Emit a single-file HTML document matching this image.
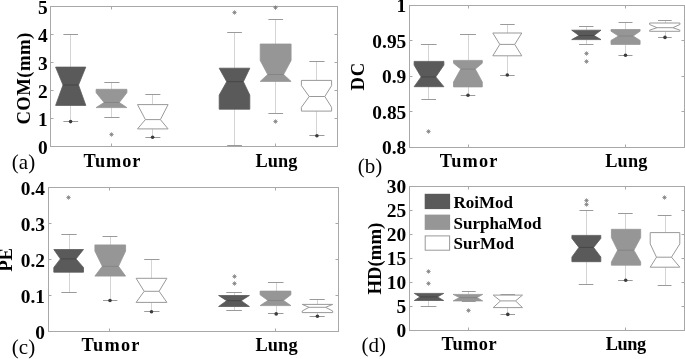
<!DOCTYPE html>
<html><head><meta charset="utf-8"><title>Boxplots</title>
<style>
html,body{margin:0;padding:0;background:#fff;}
body{width:685px;height:359px;overflow:hidden;}
svg{display:block;}
text{font-family:"Liberation Serif","Times New Roman",serif;fill:#000;}
.tl{font-size:18.5px;font-weight:bold;}
.xl{font-size:18.3px;font-weight:bold;}
.yl{font-size:18.7px;font-weight:bold;}
.pl{font-size:21px;}
.lg{font-size:17px;font-weight:bold;}
</style></head>
<body>
<svg width="685" height="359" viewBox="0 0 685 359">
<rect width="685" height="359" fill="#fff"/>
<rect x="50.5" y="6.5" width="287.0" height="140.0" fill="none" stroke="#a8a8a8" stroke-width="1"/>
<line x1="50.5" y1="118.5" x2="53.5" y2="118.5" stroke="#a8a8a8" stroke-width="1"/>
<line x1="334.5" y1="118.5" x2="337.5" y2="118.5" stroke="#a8a8a8" stroke-width="1"/>
<line x1="50.5" y1="90.5" x2="53.5" y2="90.5" stroke="#a8a8a8" stroke-width="1"/>
<line x1="334.5" y1="90.5" x2="337.5" y2="90.5" stroke="#a8a8a8" stroke-width="1"/>
<line x1="50.5" y1="62.5" x2="53.5" y2="62.5" stroke="#a8a8a8" stroke-width="1"/>
<line x1="334.5" y1="62.5" x2="337.5" y2="62.5" stroke="#a8a8a8" stroke-width="1"/>
<line x1="50.5" y1="34.5" x2="53.5" y2="34.5" stroke="#a8a8a8" stroke-width="1"/>
<line x1="334.5" y1="34.5" x2="337.5" y2="34.5" stroke="#a8a8a8" stroke-width="1"/>
<line x1="111.5" y1="146.5" x2="111.5" y2="143.5" stroke="#a8a8a8" stroke-width="1"/>
<line x1="111.5" y1="6.5" x2="111.5" y2="9.5" stroke="#a8a8a8" stroke-width="1"/>
<line x1="275.5" y1="146.5" x2="275.5" y2="143.5" stroke="#a8a8a8" stroke-width="1"/>
<line x1="275.5" y1="6.5" x2="275.5" y2="9.5" stroke="#a8a8a8" stroke-width="1"/>
<text transform="translate(47.800000000000004,154.1) scale(1.05,1)" class="tl" text-anchor="end">0</text>
<text transform="translate(47.800000000000004,126.2) scale(1.05,1)" class="tl" text-anchor="end">1</text>
<text transform="translate(47.800000000000004,98.2) scale(1.05,1)" class="tl" text-anchor="end">2</text>
<text transform="translate(47.800000000000004,70.3) scale(1.05,1)" class="tl" text-anchor="end">3</text>
<text transform="translate(47.800000000000004,42.3) scale(1.05,1)" class="tl" text-anchor="end">4</text>
<text transform="translate(47.800000000000004,14.4) scale(1.05,1)" class="tl" text-anchor="end">5</text>
<text transform="translate(29.5,78.7) rotate(-90)" x="0.2" class="yl" text-anchor="middle" style="letter-spacing:0.4px">COM(mm)</text>
<text x="112.475" y="166.6" class="xl" text-anchor="middle" style="letter-spacing:0.95px">Tumor</text>
<text x="276.55" y="166.5" class="xl" text-anchor="middle" style="letter-spacing:0.1px">Lung</text>
<text x="23.5" y="168.5" class="pl" text-anchor="middle">(a)</text>
<line x1="70.5" y1="67" x2="70.5" y2="34.5" stroke="#d4d4d4" stroke-width="1"/>
<line x1="63.4" y1="34.5" x2="78.1" y2="34.5" stroke="#9a9a9a" stroke-width="1"/>
<line x1="70.5" y1="105.3" x2="70.5" y2="121.5" stroke="#d4d4d4" stroke-width="1"/>
<line x1="63.4" y1="121.5" x2="78.1" y2="121.5" stroke="#9a9a9a" stroke-width="1"/>
<polygon points="55.6,67.1 85.8,67.1 85.8,67.1 78.5,85.0 85.8,105.4 85.8,105.4 55.6,105.4 55.6,105.4 63.0,85.0 55.6,67.1" fill="#5a5a5a" stroke="#5a5a5a" stroke-width="0.8"/>
<line x1="63.0" y1="85.0" x2="78.5" y2="85.0" stroke="#474747" stroke-width="1"/>
<circle cx="70.6" cy="121.6" r="1.8" fill="#3c3c3c"/>
<line x1="111.5" y1="89.4" x2="111.5" y2="82.5" stroke="#d4d4d4" stroke-width="1"/>
<line x1="104.3" y1="82.5" x2="119.5" y2="82.5" stroke="#9a9a9a" stroke-width="1"/>
<line x1="111.5" y1="107.4" x2="111.5" y2="117.5" stroke="#d4d4d4" stroke-width="1"/>
<line x1="104.3" y1="117.5" x2="119.5" y2="117.5" stroke="#9a9a9a" stroke-width="1"/>
<polygon points="96.1,89.3 126.9,89.3 126.9,92.7 119.3,102.5 126.9,107.6 126.9,107.6 96.1,107.6 96.1,107.6 104.1,102.5 96.1,92.7" fill="#969696" stroke="#969696" stroke-width="0.8"/>
<line x1="104.1" y1="102.5" x2="119.3" y2="102.5" stroke="#858585" stroke-width="1"/>
<path d="M109.3,134.5H113.7M111.5,132.3V136.7M109.85,132.85L113.15,136.15M109.85,136.15L113.15,132.85" stroke="#7c7c7c" stroke-width="0.75" fill="none"/>
<line x1="152.5" y1="104.6" x2="152.5" y2="94.5" stroke="#d4d4d4" stroke-width="1"/>
<line x1="145.4" y1="94.5" x2="160.4" y2="94.5" stroke="#9a9a9a" stroke-width="1"/>
<line x1="152.5" y1="128.9" x2="152.5" y2="137.5" stroke="#d4d4d4" stroke-width="1"/>
<line x1="145.4" y1="137.5" x2="160.4" y2="137.5" stroke="#9a9a9a" stroke-width="1"/>
<polygon points="137.5,104.6 168.1,104.6 168.1,104.6 160.4,119.6 168.1,128.9 168.1,128.9 137.5,128.9 137.5,128.9 145.4,119.6 137.5,104.6" fill="#fff" stroke="#999999" stroke-width="1"/>
<line x1="145.4" y1="119.6" x2="160.4" y2="119.6" stroke="#999999" stroke-width="1"/>
<circle cx="152.6" cy="137.2" r="1.8" fill="#3c3c3c"/>
<line x1="234.5" y1="68.2" x2="234.5" y2="32.5" stroke="#d4d4d4" stroke-width="1"/>
<line x1="227.2" y1="32.5" x2="241.9" y2="32.5" stroke="#9a9a9a" stroke-width="1"/>
<line x1="234.5" y1="109.2" x2="234.5" y2="145.5" stroke="#d4d4d4" stroke-width="1"/>
<line x1="227.2" y1="145.5" x2="241.9" y2="145.5" stroke="#9a9a9a" stroke-width="1"/>
<polygon points="219.2,68.2 249.8,68.2 249.8,68.2 243.4,81.7 249.8,95.1 249.8,109.2 219.2,109.2 219.2,95.1 226.7,81.7 219.2,68.2" fill="#5a5a5a" stroke="#5a5a5a" stroke-width="0.8"/>
<line x1="226.7" y1="81.7" x2="243.4" y2="81.7" stroke="#474747" stroke-width="1"/>
<path d="M232.3,12.5H236.7M234.5,10.3V14.7M232.85,10.85L236.15,14.15M232.85,14.15L236.15,10.85" stroke="#7c7c7c" stroke-width="0.75" fill="none"/>
<line x1="275.5" y1="44" x2="275.5" y2="19.5" stroke="#d4d4d4" stroke-width="1"/>
<line x1="268.4" y1="19.5" x2="283.1" y2="19.5" stroke="#9a9a9a" stroke-width="1"/>
<line x1="275.5" y1="81.4" x2="275.5" y2="113.5" stroke="#d4d4d4" stroke-width="1"/>
<line x1="268.4" y1="113.5" x2="283.1" y2="113.5" stroke="#9a9a9a" stroke-width="1"/>
<polygon points="260.2,44.0 291.1,44.0 291.1,60.4 283.6,74.5 291.1,81.4 291.1,81.4 260.2,81.4 260.2,81.4 267.7,74.5 260.2,60.4" fill="#969696" stroke="#969696" stroke-width="0.8"/>
<line x1="267.7" y1="74.5" x2="283.6" y2="74.5" stroke="#858585" stroke-width="1"/>
<path d="M273.3,7.5H277.7M275.5,5.3V9.7M273.85,5.85L277.15,9.15M273.85,9.15L277.15,5.85" stroke="#7c7c7c" stroke-width="0.75" fill="none"/>
<path d="M273.3,121.5H277.7M275.5,119.3V123.7M273.85,119.85L277.15,123.15M273.85,123.15L277.15,119.85" stroke="#7c7c7c" stroke-width="0.75" fill="none"/>
<line x1="316.5" y1="80.5" x2="316.5" y2="61.5" stroke="#d4d4d4" stroke-width="1"/>
<line x1="309.3" y1="61.5" x2="324.5" y2="61.5" stroke="#9a9a9a" stroke-width="1"/>
<line x1="316.5" y1="111.1" x2="316.5" y2="135.5" stroke="#d4d4d4" stroke-width="1"/>
<line x1="309.3" y1="135.5" x2="324.5" y2="135.5" stroke="#9a9a9a" stroke-width="1"/>
<polygon points="301.4,80.4 331.6,80.4 331.6,85.6 324.8,96.5 331.6,107.3 331.6,111.1 301.4,111.1 301.4,107.3 309.2,96.5 301.4,85.6" fill="#fff" stroke="#999999" stroke-width="1"/>
<line x1="309.2" y1="96.5" x2="324.8" y2="96.5" stroke="#999999" stroke-width="1"/>
<circle cx="316.9" cy="135.7" r="1.8" fill="#3c3c3c"/>
<rect x="409.5" y="5.5" width="275.0" height="142.0" fill="none" stroke="#a8a8a8" stroke-width="1"/>
<line x1="409.5" y1="111.5" x2="412.5" y2="111.5" stroke="#a8a8a8" stroke-width="1"/>
<line x1="681.5" y1="111.5" x2="684.5" y2="111.5" stroke="#a8a8a8" stroke-width="1"/>
<line x1="409.5" y1="76.5" x2="412.5" y2="76.5" stroke="#a8a8a8" stroke-width="1"/>
<line x1="681.5" y1="76.5" x2="684.5" y2="76.5" stroke="#a8a8a8" stroke-width="1"/>
<line x1="409.5" y1="40.5" x2="412.5" y2="40.5" stroke="#a8a8a8" stroke-width="1"/>
<line x1="681.5" y1="40.5" x2="684.5" y2="40.5" stroke="#a8a8a8" stroke-width="1"/>
<line x1="468.5" y1="147.5" x2="468.5" y2="144.5" stroke="#a8a8a8" stroke-width="1"/>
<line x1="468.5" y1="5.5" x2="468.5" y2="8.5" stroke="#a8a8a8" stroke-width="1"/>
<line x1="625.5" y1="147.5" x2="625.5" y2="144.5" stroke="#a8a8a8" stroke-width="1"/>
<line x1="625.5" y1="5.5" x2="625.5" y2="8.5" stroke="#a8a8a8" stroke-width="1"/>
<text transform="translate(406.3,154.3) scale(1.05,1)" class="tl" text-anchor="end">0.8</text>
<text transform="translate(406.3,118.8) scale(1.05,1)" class="tl" text-anchor="end">0.85</text>
<text transform="translate(406.3,83.3) scale(1.05,1)" class="tl" text-anchor="end">0.9</text>
<text transform="translate(406.3,47.8) scale(1.05,1)" class="tl" text-anchor="end">0.95</text>
<text transform="translate(406.3,12.3) scale(1.05,1)" class="tl" text-anchor="end">1</text>
<text transform="translate(364.2,76.6) rotate(-90)" x="0.3" class="yl" text-anchor="middle" style="letter-spacing:0.6px">DC</text>
<text x="469.05" y="167.1" class="xl" text-anchor="middle" style="letter-spacing:1.1px">Tumor</text>
<text x="626.4" y="167.1" class="xl" text-anchor="middle" style="letter-spacing:0.2px">Lung</text>
<text x="370.0" y="173" class="pl" text-anchor="middle">(b)</text>
<line x1="428.5" y1="61.4" x2="428.5" y2="44.5" stroke="#d4d4d4" stroke-width="1"/>
<line x1="420.9" y1="44.5" x2="436.6" y2="44.5" stroke="#9a9a9a" stroke-width="1"/>
<line x1="428.5" y1="86.7" x2="428.5" y2="99.5" stroke="#d4d4d4" stroke-width="1"/>
<line x1="421.4" y1="99.5" x2="436.1" y2="99.5" stroke="#9a9a9a" stroke-width="1"/>
<polygon points="414.1,61.4 443.9,61.4 443.9,65.1 435.8,76.9 443.9,86.7 443.9,86.7 414.1,86.7 414.1,86.7 421.1,76.9 414.1,65.1" fill="#5a5a5a" stroke="#5a5a5a" stroke-width="0.8"/>
<line x1="421.1" y1="76.9" x2="435.8" y2="76.9" stroke="#474747" stroke-width="1"/>
<path d="M426.3,131.5H430.7M428.5,129.3V133.7M426.85,129.85L430.15,133.15M426.85,133.15L430.15,129.85" stroke="#7c7c7c" stroke-width="0.75" fill="none"/>
<line x1="468.5" y1="60.4" x2="468.5" y2="34.5" stroke="#d4d4d4" stroke-width="1"/>
<line x1="460" y1="34.5" x2="475.9" y2="34.5" stroke="#9a9a9a" stroke-width="1"/>
<line x1="468.5" y1="86.9" x2="468.5" y2="95.5" stroke="#d4d4d4" stroke-width="1"/>
<line x1="460.7" y1="95.5" x2="475.3" y2="95.5" stroke="#9a9a9a" stroke-width="1"/>
<polygon points="453.5,60.4 482.3,60.4 482.3,63.2 475.3,69.1 482.3,82.0 482.3,86.9 453.5,86.9 453.5,82.0 460.7,69.1 453.5,63.2" fill="#969696" stroke="#969696" stroke-width="0.8"/>
<line x1="460.7" y1="69.1" x2="475.3" y2="69.1" stroke="#858585" stroke-width="1"/>
<circle cx="468" cy="95.3" r="1.8" fill="#3c3c3c"/>
<line x1="507.5" y1="33" x2="507.5" y2="24.5" stroke="#d4d4d4" stroke-width="1"/>
<line x1="500.2" y1="24.5" x2="514.7" y2="24.5" stroke="#9a9a9a" stroke-width="1"/>
<line x1="507.5" y1="55.8" x2="507.5" y2="75.5" stroke="#d4d4d4" stroke-width="1"/>
<line x1="500.2" y1="75.5" x2="514.7" y2="75.5" stroke="#9a9a9a" stroke-width="1"/>
<polygon points="492.8,33.0 521.8,33.0 521.8,33.0 514.7,44.4 521.8,55.8 521.8,55.8 492.8,55.8 492.8,55.8 499.8,44.4 492.8,33.0" fill="#fff" stroke="#999999" stroke-width="1"/>
<line x1="499.8" y1="44.4" x2="514.7" y2="44.4" stroke="#999999" stroke-width="1"/>
<circle cx="507.3" cy="75" r="1.8" fill="#3c3c3c"/>
<line x1="586.5" y1="30.2" x2="586.5" y2="26.5" stroke="#d4d4d4" stroke-width="1"/>
<line x1="579" y1="26.5" x2="593.5" y2="26.5" stroke="#9a9a9a" stroke-width="1"/>
<line x1="586.5" y1="39.6" x2="586.5" y2="44.5" stroke="#d4d4d4" stroke-width="1"/>
<line x1="579" y1="44.5" x2="593.5" y2="44.5" stroke="#9a9a9a" stroke-width="1"/>
<polygon points="571.7,30.2 601.0,30.2 601.0,30.2 594.0,35.5 601.0,39.6 601.0,39.6 571.7,39.6 571.7,39.6 579.0,35.5 571.7,30.2" fill="#5a5a5a" stroke="#5a5a5a" stroke-width="0.8"/>
<line x1="579" y1="35.5" x2="594" y2="35.5" stroke="#474747" stroke-width="1"/>
<path d="M584.3,53.5H588.7M586.5,51.3V55.7M584.85,51.85L588.15,55.15M584.85,55.15L588.15,51.85" stroke="#7c7c7c" stroke-width="0.75" fill="none"/>
<path d="M584.3,61.5H588.7M586.5,59.3V63.7M584.85,59.85L588.15,63.15M584.85,63.15L588.15,59.85" stroke="#7c7c7c" stroke-width="0.75" fill="none"/>
<line x1="625.5" y1="29.5" x2="625.5" y2="22.5" stroke="#d4d4d4" stroke-width="1"/>
<line x1="618.5" y1="22.5" x2="632.5" y2="22.5" stroke="#9a9a9a" stroke-width="1"/>
<line x1="625.5" y1="44.4" x2="625.5" y2="55.5" stroke="#d4d4d4" stroke-width="1"/>
<line x1="618.5" y1="55.5" x2="632.5" y2="55.5" stroke="#9a9a9a" stroke-width="1"/>
<polygon points="611.0,29.5 640.1,29.5 640.1,31.2 633.1,36.0 640.1,40.4 640.1,44.4 611.0,44.4 611.0,40.4 618.5,36.0 611.0,31.2" fill="#969696" stroke="#969696" stroke-width="0.8"/>
<line x1="618.5" y1="36" x2="633.1" y2="36" stroke="#858585" stroke-width="1"/>
<circle cx="625.5" cy="55.3" r="1.8" fill="#3c3c3c"/>
<line x1="665.5" y1="23.2" x2="665.5" y2="20.5" stroke="#d4d4d4" stroke-width="1"/>
<line x1="658" y1="20.5" x2="671.7" y2="20.5" stroke="#9a9a9a" stroke-width="1"/>
<line x1="665.5" y1="31.6" x2="665.5" y2="37.5" stroke="#d4d4d4" stroke-width="1"/>
<line x1="658" y1="37.5" x2="671.7" y2="37.5" stroke="#9a9a9a" stroke-width="1"/>
<polygon points="649.6,23.0 679.9,23.0 679.9,24.5 672.9,27.7 679.9,30.2 679.9,31.3 649.6,31.3 649.6,30.2 657.0,27.7 649.6,24.5" fill="#fff" stroke="#999999" stroke-width="1"/>
<line x1="657" y1="27.7" x2="672.9" y2="27.7" stroke="#999999" stroke-width="1"/>
<circle cx="665" cy="37.4" r="1.8" fill="#3c3c3c"/>
<rect x="48.5" y="187.5" width="290.0" height="144.0" fill="none" stroke="#a8a8a8" stroke-width="1"/>
<line x1="48.5" y1="295.5" x2="51.5" y2="295.5" stroke="#a8a8a8" stroke-width="1"/>
<line x1="335.5" y1="295.5" x2="338.5" y2="295.5" stroke="#a8a8a8" stroke-width="1"/>
<line x1="48.5" y1="259.5" x2="51.5" y2="259.5" stroke="#a8a8a8" stroke-width="1"/>
<line x1="335.5" y1="259.5" x2="338.5" y2="259.5" stroke="#a8a8a8" stroke-width="1"/>
<line x1="48.5" y1="223.5" x2="51.5" y2="223.5" stroke="#a8a8a8" stroke-width="1"/>
<line x1="335.5" y1="223.5" x2="338.5" y2="223.5" stroke="#a8a8a8" stroke-width="1"/>
<line x1="109.5" y1="331.5" x2="109.5" y2="328.5" stroke="#a8a8a8" stroke-width="1"/>
<line x1="109.5" y1="187.5" x2="109.5" y2="190.5" stroke="#a8a8a8" stroke-width="1"/>
<line x1="275.5" y1="331.5" x2="275.5" y2="328.5" stroke="#a8a8a8" stroke-width="1"/>
<line x1="275.5" y1="187.5" x2="275.5" y2="190.5" stroke="#a8a8a8" stroke-width="1"/>
<text transform="translate(45.0,339.2) scale(1.05,1)" class="tl" text-anchor="end">0</text>
<text transform="translate(45.0,303.2) scale(1.05,1)" class="tl" text-anchor="end">0.1</text>
<text transform="translate(45.0,267.2) scale(1.05,1)" class="tl" text-anchor="end">0.2</text>
<text transform="translate(45.0,231.3) scale(1.05,1)" class="tl" text-anchor="end">0.3</text>
<text transform="translate(45.0,195.3) scale(1.05,1)" class="tl" text-anchor="end">0.4</text>
<text transform="translate(12.3,259.9) rotate(-90)" x="0.0" class="yl" text-anchor="middle">PE</text>
<text x="111.0" y="351.3" class="xl" text-anchor="middle" style="letter-spacing:1.2px">Tumor</text>
<text x="276.575" y="351.4" class="xl" text-anchor="middle" style="letter-spacing:0.15px">Lung</text>
<text x="23.5" y="354" class="pl" text-anchor="middle">(c)</text>
<line x1="69.5" y1="249.5" x2="69.5" y2="234.5" stroke="#d4d4d4" stroke-width="1"/>
<line x1="61.3" y1="234.5" x2="76.7" y2="234.5" stroke="#9a9a9a" stroke-width="1"/>
<line x1="69.5" y1="272.2" x2="69.5" y2="292.5" stroke="#d4d4d4" stroke-width="1"/>
<line x1="61.3" y1="292.5" x2="76.7" y2="292.5" stroke="#9a9a9a" stroke-width="1"/>
<polygon points="53.8,249.5 83.5,249.5 83.5,249.5 76.0,258.9 83.5,267.5 83.5,272.2 53.8,272.2 53.8,267.5 60.4,258.9 53.8,249.5" fill="#5a5a5a" stroke="#5a5a5a" stroke-width="0.8"/>
<line x1="60.4" y1="258.9" x2="76" y2="258.9" stroke="#474747" stroke-width="1"/>
<path d="M66.3,197.5H70.7M68.5,195.3V199.7M66.85,195.85L70.15,199.15M66.85,199.15L70.15,195.85" stroke="#7c7c7c" stroke-width="0.75" fill="none"/>
<line x1="110.5" y1="244.9" x2="110.5" y2="236.5" stroke="#d4d4d4" stroke-width="1"/>
<line x1="102.5" y1="236.5" x2="117.4" y2="236.5" stroke="#9a9a9a" stroke-width="1"/>
<line x1="110.5" y1="276.1" x2="110.5" y2="300.5" stroke="#d4d4d4" stroke-width="1"/>
<line x1="103" y1="300.5" x2="117.4" y2="300.5" stroke="#9a9a9a" stroke-width="1"/>
<polygon points="94.9,244.9 125.6,244.9 125.6,251.1 118.5,266.3 125.6,276.1 125.6,276.1 94.9,276.1 94.9,276.1 102.3,266.3 94.9,251.1" fill="#969696" stroke="#969696" stroke-width="0.8"/>
<line x1="102.3" y1="266.3" x2="118.5" y2="266.3" stroke="#858585" stroke-width="1"/>
<circle cx="110" cy="300.5" r="1.8" fill="#3c3c3c"/>
<line x1="151.5" y1="278.3" x2="151.5" y2="259.5" stroke="#d4d4d4" stroke-width="1"/>
<line x1="144.2" y1="259.5" x2="159.5" y2="259.5" stroke="#9a9a9a" stroke-width="1"/>
<line x1="151.5" y1="302.4" x2="151.5" y2="311.5" stroke="#d4d4d4" stroke-width="1"/>
<line x1="144.2" y1="311.5" x2="159.5" y2="311.5" stroke="#9a9a9a" stroke-width="1"/>
<polygon points="136.1,278.3 166.9,278.3 166.9,278.3 159.1,291.3 166.9,302.4 166.9,302.4 136.1,302.4 136.1,302.4 144.2,291.3 136.1,278.3" fill="#fff" stroke="#999999" stroke-width="1"/>
<line x1="144.2" y1="291.3" x2="159.1" y2="291.3" stroke="#999999" stroke-width="1"/>
<circle cx="151.5" cy="311.8" r="1.8" fill="#3c3c3c"/>
<line x1="234.5" y1="295.5" x2="234.5" y2="292.5" stroke="#d4d4d4" stroke-width="1"/>
<line x1="226.3" y1="292.5" x2="241.9" y2="292.5" stroke="#9a9a9a" stroke-width="1"/>
<line x1="234.5" y1="306.5" x2="234.5" y2="310.5" stroke="#d4d4d4" stroke-width="1"/>
<line x1="226.3" y1="310.5" x2="241.9" y2="310.5" stroke="#9a9a9a" stroke-width="1"/>
<polygon points="218.6,295.5 249.4,295.5 249.4,295.5 241.2,300.7 249.4,306.5 249.4,306.5 218.6,306.5 218.6,306.5 226.7,300.7 218.6,295.5" fill="#5a5a5a" stroke="#5a5a5a" stroke-width="0.8"/>
<line x1="226.7" y1="300.7" x2="241.2" y2="300.7" stroke="#474747" stroke-width="1"/>
<path d="M232.3,276.5H236.7M234.5,274.3V278.7M232.85,274.85L236.15,278.15M232.85,278.15L236.15,274.85" stroke="#7c7c7c" stroke-width="0.75" fill="none"/>
<path d="M232.3,283.5H236.7M234.5,281.3V285.7M232.85,281.85L236.15,285.15M232.85,285.15L236.15,281.85" stroke="#7c7c7c" stroke-width="0.75" fill="none"/>
<line x1="276.5" y1="291.2" x2="276.5" y2="282.5" stroke="#d4d4d4" stroke-width="1"/>
<line x1="267.9" y1="282.5" x2="283.5" y2="282.5" stroke="#9a9a9a" stroke-width="1"/>
<line x1="276.5" y1="306.1" x2="276.5" y2="313.5" stroke="#d4d4d4" stroke-width="1"/>
<line x1="267.9" y1="313.5" x2="283.5" y2="313.5" stroke="#9a9a9a" stroke-width="1"/>
<polygon points="260.1,291.1 290.9,291.1 290.9,294.8 283.5,300.4 290.9,305.6 290.9,305.6 260.1,305.6 260.1,305.6 267.9,300.4 260.1,294.8" fill="#969696" stroke="#969696" stroke-width="0.8"/>
<line x1="267.9" y1="300.4" x2="283.5" y2="300.4" stroke="#858585" stroke-width="1"/>
<circle cx="276.2" cy="313.9" r="1.8" fill="#3c3c3c"/>
<line x1="317.5" y1="304.1" x2="317.5" y2="299.5" stroke="#d4d4d4" stroke-width="1"/>
<line x1="309.6" y1="299.5" x2="324.7" y2="299.5" stroke="#9a9a9a" stroke-width="1"/>
<line x1="317.5" y1="313" x2="317.5" y2="316.5" stroke="#d4d4d4" stroke-width="1"/>
<line x1="309.6" y1="316.5" x2="324.7" y2="316.5" stroke="#9a9a9a" stroke-width="1"/>
<polygon points="302.2,304.4 332.7,304.4 332.7,304.4 325.6,307.3 332.7,311.0 332.7,312.6 302.2,312.6 302.2,311.0 309.0,307.3 302.2,304.4" fill="#fff" stroke="#999999" stroke-width="1"/>
<line x1="309.0" y1="307.3" x2="325.6" y2="307.3" stroke="#999999" stroke-width="1"/>
<circle cx="317.4" cy="316.3" r="1.8" fill="#3c3c3c"/>
<rect x="409.5" y="186.5" width="275.0" height="144.0" fill="none" stroke="#a8a8a8" stroke-width="1"/>
<line x1="409.5" y1="306.5" x2="412.5" y2="306.5" stroke="#a8a8a8" stroke-width="1"/>
<line x1="681.5" y1="306.5" x2="684.5" y2="306.5" stroke="#a8a8a8" stroke-width="1"/>
<line x1="409.5" y1="282.5" x2="412.5" y2="282.5" stroke="#a8a8a8" stroke-width="1"/>
<line x1="681.5" y1="282.5" x2="684.5" y2="282.5" stroke="#a8a8a8" stroke-width="1"/>
<line x1="409.5" y1="258.5" x2="412.5" y2="258.5" stroke="#a8a8a8" stroke-width="1"/>
<line x1="681.5" y1="258.5" x2="684.5" y2="258.5" stroke="#a8a8a8" stroke-width="1"/>
<line x1="409.5" y1="234.5" x2="412.5" y2="234.5" stroke="#a8a8a8" stroke-width="1"/>
<line x1="681.5" y1="234.5" x2="684.5" y2="234.5" stroke="#a8a8a8" stroke-width="1"/>
<line x1="409.5" y1="210.5" x2="412.5" y2="210.5" stroke="#a8a8a8" stroke-width="1"/>
<line x1="681.5" y1="210.5" x2="684.5" y2="210.5" stroke="#a8a8a8" stroke-width="1"/>
<line x1="468.5" y1="330.5" x2="468.5" y2="327.5" stroke="#a8a8a8" stroke-width="1"/>
<line x1="468.5" y1="186.5" x2="468.5" y2="189.5" stroke="#a8a8a8" stroke-width="1"/>
<line x1="625.5" y1="330.5" x2="625.5" y2="327.5" stroke="#a8a8a8" stroke-width="1"/>
<line x1="625.5" y1="186.5" x2="625.5" y2="189.5" stroke="#a8a8a8" stroke-width="1"/>
<text transform="translate(406.1,336.9) scale(1.05,1)" class="tl" text-anchor="end">0</text>
<text transform="translate(406.1,313.0) scale(1.05,1)" class="tl" text-anchor="end">5</text>
<text transform="translate(406.1,289.1) scale(1.05,1)" class="tl" text-anchor="end">10</text>
<text transform="translate(406.1,265.1) scale(1.05,1)" class="tl" text-anchor="end">15</text>
<text transform="translate(406.1,241.2) scale(1.05,1)" class="tl" text-anchor="end">20</text>
<text transform="translate(406.1,217.3) scale(1.05,1)" class="tl" text-anchor="end">25</text>
<text transform="translate(406.1,193.4) scale(1.05,1)" class="tl" text-anchor="end">30</text>
<text transform="translate(381,258.6) rotate(-90)" x="0.0" class="yl" text-anchor="middle">HD(mm)</text>
<text x="469.25" y="350.2" class="xl" text-anchor="middle" style="letter-spacing:0.5px">Tumor</text>
<text x="625.675" y="349.8" class="xl" text-anchor="middle" style="letter-spacing:-0.45px">Lung</text>
<text x="373.7" y="351.5" class="pl" text-anchor="middle">(d)</text>
<line x1="428.5" y1="300.5" x2="428.5" y2="306.5" stroke="#d4d4d4" stroke-width="1"/>
<line x1="420.7" y1="306.5" x2="436.4" y2="306.5" stroke="#9a9a9a" stroke-width="1"/>
<polygon points="414.3,293.4 443.7,293.4 443.7,293.4 437.5,296.9 443.7,300.5 443.7,300.5 414.3,300.5 414.3,300.5 420.0,296.9 414.3,293.4" fill="#5a5a5a" stroke="#5a5a5a" stroke-width="0.8"/>
<line x1="420" y1="296.9" x2="437.5" y2="296.9" stroke="#474747" stroke-width="1"/>
<path d="M426.3,271.5H430.7M428.5,269.3V273.7M426.85,269.85L430.15,273.15M426.85,273.15L430.15,269.85" stroke="#7c7c7c" stroke-width="0.75" fill="none"/>
<path d="M426.3,283.5H430.7M428.5,281.3V285.7M426.85,281.85L430.15,285.15M426.85,285.15L430.15,281.85" stroke="#7c7c7c" stroke-width="0.75" fill="none"/>
<line x1="468.5" y1="294.4" x2="468.5" y2="291.5" stroke="#d4d4d4" stroke-width="1"/>
<line x1="461.9" y1="291.5" x2="475.7" y2="291.5" stroke="#9a9a9a" stroke-width="1"/>
<line x1="468.5" y1="300.9" x2="468.5" y2="301.5" stroke="#d4d4d4" stroke-width="1"/>
<line x1="461.9" y1="301.5" x2="475.7" y2="301.5" stroke="#9a9a9a" stroke-width="1"/>
<polygon points="453.1,294.4 482.7,294.4 482.7,294.4 477.0,297.6 482.7,300.9 482.7,300.9 453.1,300.9 453.1,300.9 459.5,297.6 453.1,294.4" fill="#969696" stroke="#969696" stroke-width="0.8"/>
<line x1="459.5" y1="297.6" x2="477" y2="297.6" stroke="#858585" stroke-width="1"/>
<path d="M466.3,310.5H470.7M468.5,308.3V312.7M466.85,308.85L470.15,312.15M466.85,312.15L470.15,308.85" stroke="#7c7c7c" stroke-width="0.75" fill="none"/>
<line x1="507.5" y1="295.1" x2="507.5" y2="294.5" stroke="#d4d4d4" stroke-width="1"/>
<line x1="500.5" y1="294.5" x2="515" y2="294.5" stroke="#9a9a9a" stroke-width="1"/>
<line x1="507.5" y1="307.6" x2="507.5" y2="314.5" stroke="#d4d4d4" stroke-width="1"/>
<line x1="500.5" y1="314.5" x2="515" y2="314.5" stroke="#9a9a9a" stroke-width="1"/>
<polygon points="493.2,295.1 522.5,295.1 522.5,295.1 515.5,300.9 522.5,307.6 522.5,307.6 493.2,307.6 493.2,307.6 500.5,300.9 493.2,295.1" fill="#fff" stroke="#999999" stroke-width="1"/>
<line x1="500.5" y1="300.9" x2="515.5" y2="300.9" stroke="#999999" stroke-width="1"/>
<circle cx="507.8" cy="314.4" r="1.8" fill="#3c3c3c"/>
<line x1="586.5" y1="235.4" x2="586.5" y2="210.5" stroke="#d4d4d4" stroke-width="1"/>
<line x1="579.5" y1="210.5" x2="593.3" y2="210.5" stroke="#9a9a9a" stroke-width="1"/>
<line x1="586.5" y1="261.7" x2="586.5" y2="284.5" stroke="#d4d4d4" stroke-width="1"/>
<line x1="578.8" y1="284.5" x2="593.4" y2="284.5" stroke="#9a9a9a" stroke-width="1"/>
<polygon points="571.9,235.4 600.8,235.4 600.8,238.4 593.6,247.4 600.8,257.0 600.8,261.7 571.9,261.7 571.9,257.0 578.9,247.4 571.9,238.4" fill="#5a5a5a" stroke="#5a5a5a" stroke-width="0.8"/>
<line x1="578.9" y1="247.4" x2="593.6" y2="247.4" stroke="#474747" stroke-width="1"/>
<path d="M584.3,200.5H588.7M586.5,198.3V202.7M584.85,198.85L588.15,202.15M584.85,202.15L588.15,198.85" stroke="#7c7c7c" stroke-width="0.75" fill="none"/>
<path d="M584.3,204.5H588.7M586.5,202.3V206.7M584.85,202.85L588.15,206.15M584.85,206.15L588.15,202.85" stroke="#7c7c7c" stroke-width="0.75" fill="none"/>
<line x1="625.5" y1="229.3" x2="625.5" y2="213.5" stroke="#d4d4d4" stroke-width="1"/>
<line x1="618.1" y1="213.5" x2="632.7" y2="213.5" stroke="#9a9a9a" stroke-width="1"/>
<line x1="625.5" y1="265.2" x2="625.5" y2="280.5" stroke="#d4d4d4" stroke-width="1"/>
<line x1="618.1" y1="280.5" x2="632.7" y2="280.5" stroke="#9a9a9a" stroke-width="1"/>
<polygon points="611.4,229.3 640.7,229.3 640.7,237.6 633.9,250.2 640.7,262.0 640.7,265.2 611.4,265.2 611.4,262.0 617.6,250.2 611.4,237.6" fill="#969696" stroke="#969696" stroke-width="0.8"/>
<line x1="617.6" y1="250.2" x2="633.9" y2="250.2" stroke="#858585" stroke-width="1"/>
<circle cx="625.7" cy="280.3" r="1.8" fill="#3c3c3c"/>
<line x1="665.5" y1="232.6" x2="665.5" y2="215.5" stroke="#d4d4d4" stroke-width="1"/>
<line x1="657.7" y1="215.5" x2="671.5" y2="215.5" stroke="#9a9a9a" stroke-width="1"/>
<line x1="665.5" y1="267.2" x2="665.5" y2="285.5" stroke="#d4d4d4" stroke-width="1"/>
<line x1="657.7" y1="285.5" x2="671.5" y2="285.5" stroke="#9a9a9a" stroke-width="1"/>
<polygon points="650.2,232.6 679.8,232.6 679.8,243.9 671.5,257.2 679.8,267.2 679.8,267.2 650.2,267.2 650.2,267.2 656.5,257.2 650.2,243.9" fill="#fff" stroke="#999999" stroke-width="1"/>
<line x1="656.5" y1="257.2" x2="671.5" y2="257.2" stroke="#999999" stroke-width="1"/>
<path d="M662.3,197.5H666.7M664.5,195.3V199.7M662.85,195.85L666.15,199.15M662.85,199.15L666.15,195.85" stroke="#7c7c7c" stroke-width="0.75" fill="none"/>
<rect x="424.7" y="193.8" width="25.4" height="15.3" fill="#5a5a5a"/>
<rect x="424.7" y="214.6" width="25.4" height="15.3" fill="#969696"/>
<rect x="425.2" y="235.9" width="24.4" height="14.3" fill="#fff" stroke="#999999" stroke-width="1"/>
<text x="453.5" y="208.4" class="lg" text-anchor="start">RoiMod</text>
<text x="453.5" y="228.8" class="lg" text-anchor="start">SurphaMod</text>
<text x="453.5" y="248.9" class="lg" text-anchor="start">SurMod</text>
</svg>
</body></html>
